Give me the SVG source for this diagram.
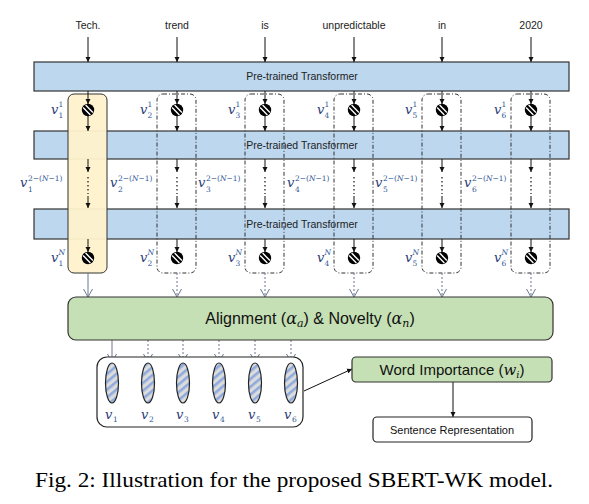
<svg xmlns="http://www.w3.org/2000/svg" width="589" height="504" viewBox="0 0 589 504">
<style>
.bar{fill:#bdd7ee;stroke:#333;stroke-width:1.2}
.bt{font-family:"Liberation Sans",Arial,sans-serif;font-size:10.5px;fill:#222;text-anchor:middle}
.wt{font-family:"Liberation Sans",Arial,sans-serif;font-size:10.5px;fill:#222;text-anchor:middle}
.ar{stroke:#111;stroke-width:1;fill:none;marker-end:url(#ah)}
.dt{stroke:#111;stroke-width:1.2;fill:none;stroke-dasharray:1.5,2.5}
.dbox{fill:none;stroke:#333;stroke-width:1;stroke-dasharray:4,2,1,2}
.ga{stroke:#6a7790;stroke-width:1;fill:none;marker-end:url(#vh)}
.gd{stroke:#6a7790;stroke-width:1;fill:none;stroke-dasharray:2,2;marker-end:url(#vh)}
.mv{font-family:"DejaVu Serif","Liberation Serif",serif;font-style:italic;font-size:13px;fill:#2b3a78}
.ms{font-family:"DejaVu Serif","Liberation Serif",serif;font-size:7.5px;fill:#2f5597}
.ni{font-style:italic}
.gb{fill:#c5e0b4;stroke:#333;stroke-width:1.2}
.st{font-family:"Liberation Sans",Arial,sans-serif;fill:#111}
.mi{font-family:"DejaVu Serif","Liberation Serif",serif;font-style:italic}
</style>
<defs>
<marker id="ah" markerUnits="userSpaceOnUse" markerWidth="6" markerHeight="6" refX="5" refY="3" orient="auto"><path d="M0,0.5 L5,3 L0,5.5 z" fill="#111"/></marker>
<marker id="vh" markerUnits="userSpaceOnUse" markerWidth="10" markerHeight="14" refX="8" refY="5" orient="auto"><path d="M0,0.5 L8,5 L0,9.5" fill="none" stroke="#6a7790" stroke-width="1"/></marker>
<g id="glyph">
<circle r="6.2" fill="#000"/>
<line x1="-2.4" y1="-4.9" x2="4.9" y2="2.4" stroke="#fff" stroke-width="1.4"/>
<line x1="-4.9" y1="-2.4" x2="2.4" y2="4.9" stroke="#fff" stroke-width="1.4"/>
</g>
<pattern id="hatch" patternUnits="userSpaceOnUse" width="6" height="6" patternTransform="rotate(-40)">
<rect width="6" height="6" fill="#dcdcdc"/>
<rect y="0" width="6" height="2.6" fill="#8faadc"/>
</pattern>
</defs>

<g id="words">
<text class="wt" x="88" y="29">Tech.</text>
<text class="wt" x="177" y="29">trend</text>
<text class="wt" x="265" y="29">is</text>
<text class="wt" x="354" y="29">unpredictable</text>
<text class="wt" x="442" y="29">in</text>
<text class="wt" x="531" y="29">2020</text>
</g>

<g id="transformer1"><rect class="bar" x="34" y="62" width="535" height="29"/><text class="bt" x="302" y="80">Pre-trained Transformer</text></g>
<g id="transformer2"><rect class="bar" x="34" y="131" width="535" height="28"/><text class="bt" x="302" y="149">Pre-trained Transformer</text></g>
<g id="transformer3"><rect class="bar" x="34" y="209" width="535" height="30"/><text class="bt" x="302" y="228">Pre-trained Transformer</text></g>

<g id="col1"><rect x="68" y="94" width="39" height="179" rx="6" fill="#fff2cc" fill-opacity="0.95" stroke="#333" stroke-width="1"/></g>
<g id="col2"><rect class="dbox" x="157" y="94" width="39" height="179" rx="6"/></g>
<g id="col3"><rect class="dbox" x="245" y="94" width="39" height="179" rx="6"/></g>
<g id="col4"><rect class="dbox" x="334" y="94" width="39" height="179" rx="6"/></g>
<g id="col5"><rect class="dbox" x="422" y="94" width="39" height="179" rx="6"/></g>
<g id="col6"><rect class="dbox" x="511" y="94" width="39" height="179" rx="6"/></g>

<g id="connectors">
<line class="ar" x1="88" y1="37" x2="88" y2="62"/><line class="ar" x1="177" y1="37" x2="177" y2="62"/><line class="ar" x1="265" y1="37" x2="265" y2="62"/><line class="ar" x1="354" y1="37" x2="354" y2="62"/><line class="ar" x1="442" y1="37" x2="442" y2="62"/><line class="ar" x1="531" y1="37" x2="531" y2="62"/>
<line class="ar" x1="88" y1="91" x2="88" y2="104"/><line class="ar" x1="177" y1="91" x2="177" y2="104"/><line class="ar" x1="265" y1="91" x2="265" y2="104"/><line class="ar" x1="354" y1="91" x2="354" y2="104"/><line class="ar" x1="442" y1="91" x2="442" y2="104"/><line class="ar" x1="531" y1="91" x2="531" y2="104"/>
<line class="ar" x1="88" y1="116" x2="88" y2="131"/><line class="ar" x1="177" y1="116" x2="177" y2="131"/><line class="ar" x1="265" y1="116" x2="265" y2="131"/><line class="ar" x1="354" y1="116" x2="354" y2="131"/><line class="ar" x1="442" y1="116" x2="442" y2="131"/><line class="ar" x1="531" y1="116" x2="531" y2="131"/>
<line class="ar" x1="88" y1="159" x2="88" y2="172"/><line class="ar" x1="177" y1="159" x2="177" y2="172"/><line class="ar" x1="265" y1="159" x2="265" y2="172"/><line class="ar" x1="354" y1="159" x2="354" y2="172"/><line class="ar" x1="442" y1="159" x2="442" y2="172"/><line class="ar" x1="531" y1="159" x2="531" y2="172"/>
<line class="dt" x1="88" y1="177" x2="88" y2="194"/><line class="dt" x1="177" y1="177" x2="177" y2="194"/><line class="dt" x1="265" y1="177" x2="265" y2="194"/><line class="dt" x1="354" y1="177" x2="354" y2="194"/><line class="dt" x1="442" y1="177" x2="442" y2="194"/><line class="dt" x1="531" y1="177" x2="531" y2="194"/>
<line class="ar" x1="88" y1="196" x2="88" y2="208"/><line class="ar" x1="177" y1="196" x2="177" y2="208"/><line class="ar" x1="265" y1="196" x2="265" y2="208"/><line class="ar" x1="354" y1="196" x2="354" y2="208"/><line class="ar" x1="442" y1="196" x2="442" y2="208"/><line class="ar" x1="531" y1="196" x2="531" y2="208"/>
<line class="ar" x1="88" y1="239" x2="88" y2="252"/><line class="ar" x1="177" y1="239" x2="177" y2="252"/><line class="ar" x1="265" y1="239" x2="265" y2="252"/><line class="ar" x1="354" y1="239" x2="354" y2="252"/><line class="ar" x1="442" y1="239" x2="442" y2="252"/><line class="ar" x1="531" y1="239" x2="531" y2="252"/>
<line class="ga" x1="88" y1="273" x2="88" y2="297"/><line class="gd" x1="177" y1="273" x2="177" y2="297"/><line class="gd" x1="265" y1="273" x2="265" y2="297"/><line class="gd" x1="354" y1="273" x2="354" y2="297"/><line class="gd" x1="442" y1="273" x2="442" y2="297"/><line class="gd" x1="531" y1="273" x2="531" y2="297"/>
<line class="ga" x1="112" y1="340" x2="112" y2="362"/><line class="gd" x1="148" y1="340" x2="148" y2="362"/><line class="gd" x1="183" y1="340" x2="183" y2="362"/><line class="gd" x1="219" y1="340" x2="219" y2="362"/><line class="gd" x1="255" y1="340" x2="255" y2="362"/><line class="gd" x1="291" y1="340" x2="291" y2="362"/>
<line class="ar" x1="304" y1="391" x2="352" y2="369"/>
<line class="ar" x1="453" y1="382" x2="453" y2="417"/>
</g>

<g id="states">
<use href="#glyph" x="88" y="110"/><use href="#glyph" x="177" y="110"/><use href="#glyph" x="265" y="110"/><use href="#glyph" x="354" y="110"/><use href="#glyph" x="442" y="110"/><use href="#glyph" x="531" y="110"/>
<use href="#glyph" x="88" y="258"/><use href="#glyph" x="177" y="258"/><use href="#glyph" x="265" y="258"/><use href="#glyph" x="354" y="258"/><use href="#glyph" x="442" y="258"/><use href="#glyph" x="531" y="258"/>
</g>

<g id="labels">
<text class="mv" x="51" y="114">v</text><text class="ms" x="58.5" y="107">1</text><text class="ms" x="58.5" y="118">1</text>
<text class="mv" x="140" y="114">v</text><text class="ms" x="147.5" y="107">1</text><text class="ms" x="147.5" y="118">2</text>
<text class="mv" x="228" y="114">v</text><text class="ms" x="235.5" y="107">1</text><text class="ms" x="235.5" y="118">3</text>
<text class="mv" x="317" y="114">v</text><text class="ms" x="324.5" y="107">1</text><text class="ms" x="324.5" y="118">4</text>
<text class="mv" x="405" y="114">v</text><text class="ms" x="412.5" y="107">1</text><text class="ms" x="412.5" y="118">5</text>
<text class="mv" x="494" y="114">v</text><text class="ms" x="501.5" y="107">1</text><text class="ms" x="501.5" y="118">6</text>

<text class="mv" x="20" y="187">v</text><text class="ms" x="28" y="181">2−(<tspan class="ni">N</tspan>−1)</text><text class="ms" x="28" y="192">1</text>
<text class="mv" x="110" y="187">v</text><text class="ms" x="118" y="181">2−(<tspan class="ni">N</tspan>−1)</text><text class="ms" x="118" y="192">2</text>
<text class="mv" x="198" y="187">v</text><text class="ms" x="206" y="181">2−(<tspan class="ni">N</tspan>−1)</text><text class="ms" x="206" y="192">3</text>
<text class="mv" x="287" y="187">v</text><text class="ms" x="295" y="181">2−(<tspan class="ni">N</tspan>−1)</text><text class="ms" x="295" y="192">4</text>
<text class="mv" x="375" y="187">v</text><text class="ms" x="383" y="181">2−(<tspan class="ni">N</tspan>−1)</text><text class="ms" x="383" y="192">5</text>
<text class="mv" x="464" y="187">v</text><text class="ms" x="472" y="181">2−(<tspan class="ni">N</tspan>−1)</text><text class="ms" x="472" y="192">6</text>

<text class="mv" x="51" y="262">v</text><text class="ms ni" x="58.5" y="255">N</text><text class="ms" x="58.5" y="266">1</text>
<text class="mv" x="140" y="262">v</text><text class="ms ni" x="147.5" y="255">N</text><text class="ms" x="147.5" y="266">2</text>
<text class="mv" x="228" y="262">v</text><text class="ms ni" x="235.5" y="255">N</text><text class="ms" x="235.5" y="266">3</text>
<text class="mv" x="317" y="262">v</text><text class="ms ni" x="324.5" y="255">N</text><text class="ms" x="324.5" y="266">4</text>
<text class="mv" x="405" y="262">v</text><text class="ms ni" x="412.5" y="255">N</text><text class="ms" x="412.5" y="266">5</text>
<text class="mv" x="494" y="262">v</text><text class="ms ni" x="501.5" y="255">N</text><text class="ms" x="501.5" y="266">6</text>
</g>

<g id="alignment">
<rect class="gb" x="68" y="297" width="485" height="43" rx="8"/>
<text class="st" x="310" y="324" font-size="16" text-anchor="middle">Alignment (<tspan class="mi">α</tspan><tspan class="mi" font-size="11" dy="3">a</tspan><tspan dy="-3">) &amp; Novelty (</tspan><tspan class="mi">α</tspan><tspan class="mi" font-size="11" dy="3">n</tspan><tspan dy="-3">)</tspan></text>
</g>

<g id="vectors">
<rect x="97" y="357" width="206" height="70" rx="10" fill="#fff" stroke="#222" stroke-width="1.2"/>
<ellipse cx="112" cy="383" rx="6.5" ry="20" fill="url(#hatch)" stroke="#222" stroke-width="1.2"/>
<ellipse cx="148" cy="383" rx="6.5" ry="20" fill="url(#hatch)" stroke="#222" stroke-width="1.2"/>
<ellipse cx="183" cy="383" rx="6.5" ry="20" fill="url(#hatch)" stroke="#222" stroke-width="1.2"/>
<ellipse cx="219" cy="383" rx="6.5" ry="20" fill="url(#hatch)" stroke="#222" stroke-width="1.2"/>
<ellipse cx="255" cy="383" rx="6.5" ry="20" fill="url(#hatch)" stroke="#222" stroke-width="1.2"/>
<ellipse cx="291" cy="383" rx="6.5" ry="20" fill="url(#hatch)" stroke="#222" stroke-width="1.2"/>
<text class="mv" x="105" y="419">v</text><text class="ms" x="113" y="422">1</text>
<text class="mv" x="141" y="419">v</text><text class="ms" x="149" y="422">2</text>
<text class="mv" x="176" y="419">v</text><text class="ms" x="184" y="422">3</text>
<text class="mv" x="212" y="419">v</text><text class="ms" x="220" y="422">4</text>
<text class="mv" x="248" y="419">v</text><text class="ms" x="256" y="422">5</text>
<text class="mv" x="284" y="419">v</text><text class="ms" x="292" y="422">6</text>
</g>

<g id="wordImportance">
<rect class="gb" x="352" y="357" width="200" height="25" rx="4"/>
<text class="st" x="452" y="375" font-size="15" text-anchor="middle">Word Importance (<tspan class="mi">w</tspan><tspan class="mi" font-size="10" dy="3">i</tspan><tspan dy="-3">)</tspan></text>
</g>

<g id="sentence">
<rect x="373" y="417" width="159" height="25" rx="4" fill="#fff" stroke="#222" stroke-width="1.2"/>
<text class="st" x="452" y="433.5" font-size="11" text-anchor="middle">Sentence Representation</text>
</g>

<text x="35" y="487" font-family="Liberation Serif,Times New Roman,serif" font-size="22" fill="#000" textLength="518" lengthAdjust="spacingAndGlyphs">Fig. 2: Illustration for the proposed SBERT-WK model.</text>
</svg>
